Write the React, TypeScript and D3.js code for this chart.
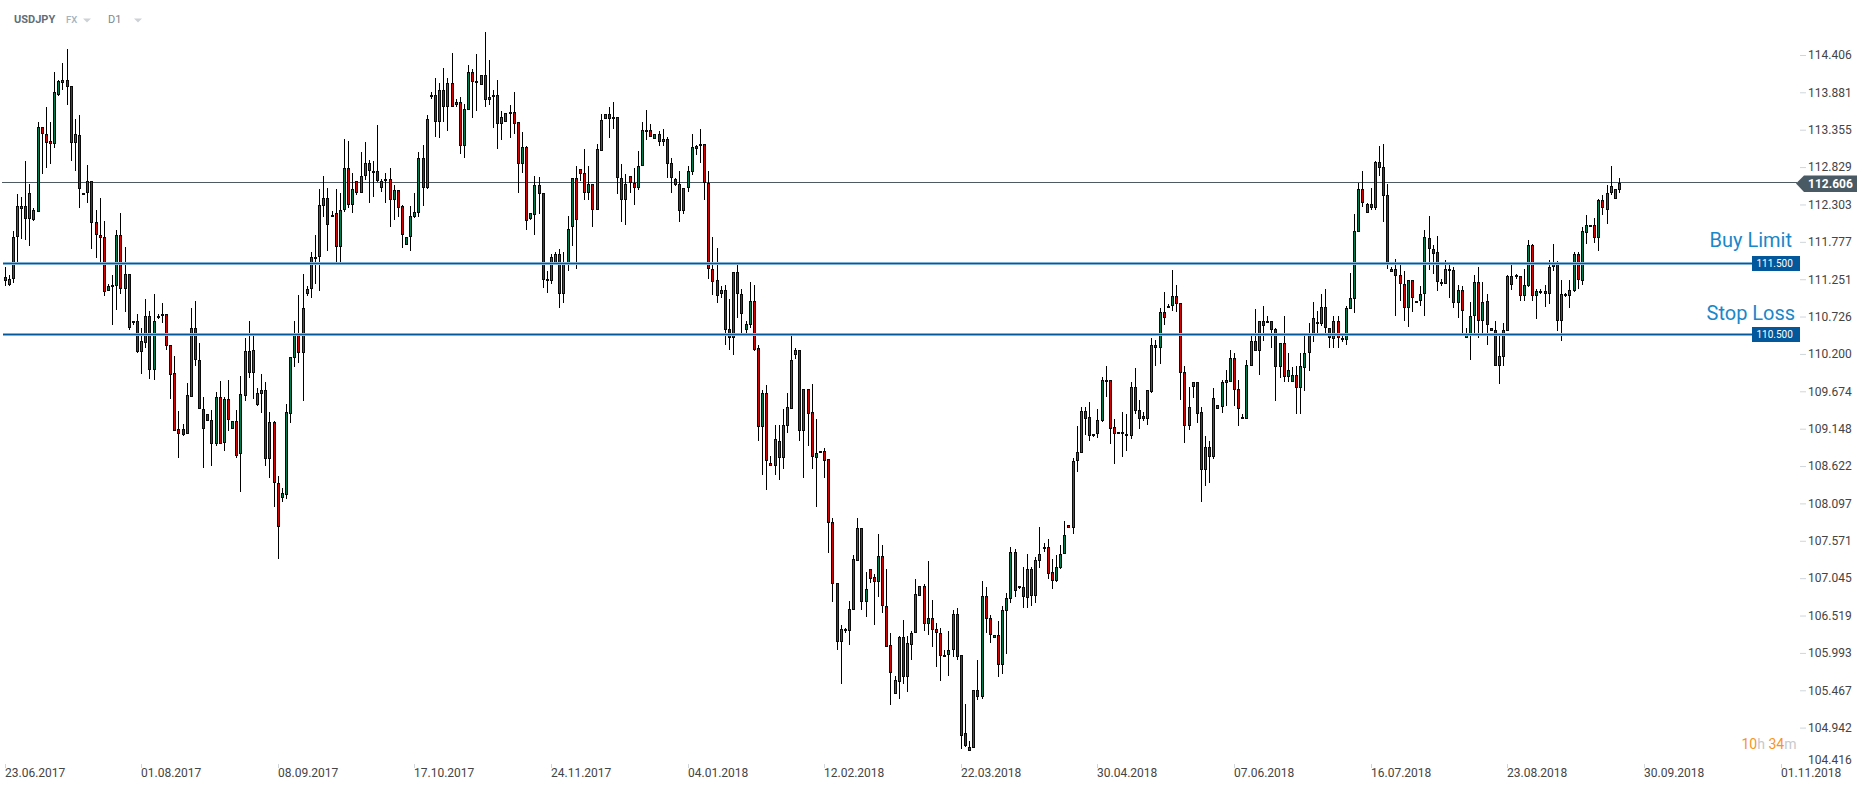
import { useEffect, useRef } from 'react';
import * as d3 from 'd3';

// open, high, low, close
type Candle = [number, number, number, number];

const candlesJun2017: Candle[] = [
  [111.28,111.43,111.15,111.23],[111.17,111.31,111.16,111.25],[111.25,111.93,111.20,111.85],[111.84,112.45,111.47,112.28],
  [112.24,112.41,111.82,112.28],[112.28,112.91,111.81,112.10],[112.10,112.59,111.72,112.46],[112.09,112.25,112.07,112.22],
  [112.20,113.46,112.19,113.39],[113.39,113.39,112.73,113.29],[113.30,113.67,112.82,113.17],[113.19,113.46,112.87,113.16],
  [113.16,114.16,113.10,113.88],[113.84,114.05,113.83,114.04],[114.01,114.29,113.91,114.06],[114.06,114.49,113.70,113.95],
  [113.97,113.97,112.92,113.17],[113.17,113.51,112.78,113.29],[113.28,113.56,112.26,112.52],[112.43,112.47,112.43,112.47],
  [112.46,112.86,112.33,112.63],[112.63,112.64,111.68,112.04],[112.05,112.23,111.55,111.87],[111.88,112.40,111.47,111.83],
  [111.84,112.07,111.01,111.07],[111.09,111.18,111.09,111.15],[111.14,111.31,110.61,111.17],[111.15,111.94,110.82,111.87],
  [111.87,112.18,111.05,111.11],[111.11,111.70,110.79,111.32],[111.32,111.32,110.54,110.56],[110.63,110.66,110.61,110.66],
  [110.66,110.76,110.21,110.23],
];

const candlesAug2017: Candle[] = [
  [110.23,110.57,109.92,110.38],[110.36,110.97,110.28,110.74],[110.74,110.81,109.85,109.97],[109.97,111.04,109.84,110.67],
  [110.70,110.76,110.69,110.74],[110.73,110.91,110.64,110.76],[110.76,110.76,110.25,110.31],[110.32,110.32,109.56,109.91],
  [109.93,110.17,109.11,109.12],[109.14,109.40,108.73,109.07],[109.15,109.22,109.05,109.06],[109.07,109.79,109.07,109.62],
  [109.60,110.84,109.60,110.57],[110.57,110.94,110.03,110.11],[110.12,110.35,109.42,109.42],[109.43,109.60,108.60,109.14],
  [109.35,109.35,109.25,109.25],[109.27,109.41,108.63,108.93],[108.93,109.66,108.90,109.59],[109.59,109.82,108.93,108.93],
  [108.94,109.60,108.84,109.56],[109.56,109.83,109.11,109.27],[109.15,109.25,109.15,109.25],[109.25,109.41,108.74,108.77],
  [108.79,109.89,108.26,109.63],[109.61,110.42,109.54,110.24],[110.24,110.66,109.86,109.93],[109.93,110.47,109.56,110.26],
  [109.48,109.72,109.47,109.65],[109.63,109.92,109.37,109.69],[109.69,109.81,108.62,108.72],[108.72,109.38,108.45,109.24],
  [109.24,109.25,108.04,108.38],
];

const candlesSep2017: Candle[] = [
  [108.39,108.48,107.32,107.76],[108.17,108.31,108.12,108.24],[108.22,109.50,108.16,109.38],[109.36,110.15,109.23,110.15],
  [110.14,110.67,110.02,110.49],[110.49,111.03,110.07,110.22],[110.22,111.32,109.54,110.84],[111.05,111.16,111.01,111.12],
  [111.11,111.64,110.98,111.56],[111.55,111.87,111.19,111.57],[111.56,112.52,111.08,112.29],[112.28,112.70,112.13,112.40],
  [112.40,112.54,111.65,112.02],[112.16,112.21,112.12,112.14],[112.18,112.52,111.48,111.70],[111.70,112.46,111.47,112.23],
  [112.22,113.23,112.20,112.81],[112.81,113.19,112.25,112.29],[112.29,112.74,112.18,112.52],[112.64,112.64,112.44,112.47],
  [112.47,113.04,112.46,112.71],[112.70,113.18,112.65,112.88],[112.88,112.93,112.32,112.78],[112.78,112.91,112.41,112.76],
  [112.78,113.42,112.62,112.64],[112.54,112.66,112.48,112.64],[112.66,112.74,112.33,112.63],[112.66,112.81,111.99,112.36],
  [112.36,112.57,112.08,112.50],[112.50,112.50,112.13,112.26],[112.28,112.29,111.69,111.87],[111.73,111.85,111.73,111.85],
  [111.85,112.28,111.65,112.14],
];

const candlesOct2017: Candle[] = [
  [112.12,112.46,112.11,112.19],[112.18,113.04,112.13,112.95],[112.95,113.14,112.28,112.54],[112.53,113.56,112.52,113.51],
  [113.85,113.88,113.79,113.82],[113.84,114.08,113.25,113.46],[113.46,114.01,113.24,113.92],[113.92,114.23,113.46,113.67],
  [113.67,114.08,113.33,114.01],[114.01,114.43,113.67,113.67],[113.70,113.78,113.68,113.74],[113.74,113.82,113.02,113.12],
  [113.12,113.71,112.95,113.64],[113.63,114.26,113.63,114.16],[114.16,114.21,113.52,114.02],[114.01,114.42,113.62,114.04],
  [113.99,114.13,113.99,114.13],[114.12,114.73,113.68,113.77],[113.77,114.34,113.70,113.82],[113.82,113.91,113.38,113.85],
  [113.85,114.05,113.09,113.44],[113.44,113.62,113.21,113.53],[113.46,113.59,113.46,113.59],[113.57,113.70,113.24,113.60],
  [113.60,113.89,113.29,113.44],[113.46,113.47,112.47,112.87],[112.87,113.32,112.74,113.11],[113.11,113.12,111.94,112.07],
  [112.10,112.18,112.09,112.18],[112.16,112.70,111.87,112.57],[112.57,112.69,112.17,112.45],[112.46,112.46,111.13,111.24],
  [111.25,111.36,111.06,111.22],
];

const candlesNov2017: Candle[] = [
  [111.22,111.60,111.19,111.56],[111.47,111.63,111.47,111.60],[111.60,111.67,110.84,111.05],[111.05,111.63,110.92,111.49],
  [111.47,112.14,111.37,111.96],[111.98,112.68,111.72,112.67],[112.67,112.85,111.40,112.09],[112.80,112.80,112.64,112.73],
  [112.74,113.08,112.36,112.47],[112.47,112.85,112.37,112.59],[112.59,112.59,111.99,112.22],[112.22,113.15,112.22,113.08],
  [113.06,113.57,113.06,113.49],[113.50,113.57,113.50,113.57],[113.57,113.67,113.24,113.51],[113.51,113.74,113.36,113.54],
  [113.54,113.54,112.45,112.67],[112.68,112.87,112.06,112.36],[112.36,112.73,112.02,112.59],[112.70,112.70,112.46,112.60],
  [112.61,112.81,112.30,112.54],[112.54,113.06,112.51,112.85],[112.84,113.46,112.84,113.35],[113.32,113.63,113.21,113.35],
  [113.35,113.43,113.25,113.25],[113.22,113.30,113.22,113.30],[113.29,113.33,113.12,113.18],[113.18,113.36,113.12,113.23],
  [113.23,113.25,112.67,112.87],[112.88,112.95,112.47,112.67],[112.66,112.67,112.56,112.57],[112.59,112.78,112.05,112.21],
  [112.21,112.54,112.17,112.54],
];

const candlesJan2018: Candle[] = [
  [112.53,112.85,112.48,112.77],[112.76,113.29,112.72,113.11],[113.12,113.14,113.00,113.09],[113.12,113.37,112.88,113.15],
  [113.15,113.15,112.36,112.60],[112.61,112.77,111.26,111.39],[111.40,111.85,111.03,111.21],[111.24,111.69,110.91,111.02],
  [111.05,111.15,110.99,111.10],[111.10,111.17,110.33,110.53],[110.55,110.97,110.25,110.42],[110.42,111.35,110.19,111.35],
  [111.35,111.47,110.70,111.04],[111.05,111.11,110.49,110.76],[110.53,110.66,110.50,110.62],[110.60,111.21,110.56,110.94],
  [110.94,111.17,110.24,110.26],[110.28,110.32,108.97,109.17],[109.17,109.69,108.50,109.65],[109.65,109.76,108.28,108.70],
  [108.67,108.76,108.63,108.63],[108.63,109.20,108.50,109.00],[108.98,109.20,108.42,108.74],[108.74,109.43,108.58,109.20],
  [109.18,109.65,109.09,109.45],[109.43,110.47,109.43,110.11],[110.18,110.28,110.13,110.26],[110.26,110.26,108.98,109.11],
  [109.11,109.70,108.45,109.70],[109.70,109.70,108.91,109.36],[109.38,109.77,108.58,108.75],[108.74,109.29,108.04,108.80],
  [108.82,108.84,108.82,108.84],
];

const candlesFeb2018: Candle[] = [
  [108.84,108.87,108.45,108.70],[108.72,108.72,107.40,107.82],[107.83,107.89,106.71,106.96],[106.97,106.97,106.04,106.14],
  [106.14,106.38,105.55,106.33],[106.33,106.35,106.28,106.30],[106.30,106.72,106.10,106.61],[106.59,107.37,106.59,107.31],
  [107.29,107.89,107.28,107.75],[107.75,107.75,106.59,106.71],[106.71,107.13,106.50,106.89],[107.18,107.18,106.98,107.04],
  [107.06,107.10,106.38,106.99],[106.99,107.66,106.78,107.35],[107.35,107.51,106.56,106.65],[106.65,107.18,106.07,106.08],
  [106.10,106.28,105.26,105.71],[105.42,105.67,105.42,105.61],[105.59,106.23,105.35,106.21],[106.21,106.46,105.55,105.65],
  [105.65,106.23,105.45,106.13],[106.11,106.30,105.89,106.28],[106.27,107.04,106.27,106.82],[106.79,106.94,106.79,106.94],
  [106.94,106.96,106.30,106.40],[106.40,107.28,106.25,106.49],[106.49,106.74,106.07,106.31],[106.33,106.41,105.79,106.27],
  [106.28,106.35,105.60,105.95],[105.97,106.03,105.93,105.94],[105.96,106.30,105.67,106.04],[106.03,106.60,105.94,106.54],
  [106.54,106.63,105.89,105.93],
];

const candlesMar2018: Candle[] = [
  [105.96,105.96,104.64,104.83],[104.86,105.27,104.67,104.69],[104.62,104.75,104.62,104.67],[104.65,105.47,104.65,105.47],
  [105.47,105.89,105.33,105.37],[105.37,107.00,105.35,106.79],[106.79,106.92,106.27,106.47],[106.48,106.52,106.13,106.24],
  [106.20,106.25,106.20,106.25],[106.25,106.44,105.66,105.83],[105.83,106.65,105.69,106.59],[106.58,106.83,105.98,106.76],
  [106.75,107.48,106.70,107.41],[107.41,107.45,106.78,106.86],[106.94,106.94,106.89,106.90],[106.92,107.20,106.62,106.78],
  [106.76,107.39,106.62,107.18],[107.18,107.20,106.65,106.79],[106.79,107.34,106.70,107.30],[107.28,107.76,107.19,107.38],
  [107.47,107.54,107.42,107.49],[107.48,107.59,107.04,107.11],[107.13,107.32,106.89,107.00],[107.00,107.37,106.99,107.20],
  [107.19,107.51,107.18,107.39],[107.38,107.85,107.38,107.65],[107.79,107.79,107.75,107.75],[107.75,108.74,107.66,108.70],
  [108.69,109.18,108.54,108.82],[108.80,109.45,108.80,109.39],[109.39,109.45,109.06,109.29],[109.31,109.52,108.97,109.04],
  [109.04,109.08,109.03,109.08],
];

const candlesMay2018: Candle[] = [
  [109.07,109.43,109.02,109.27],[109.25,109.88,109.24,109.84],[109.84,110.03,109.60,109.81],[109.84,109.84,108.93,109.15],
  [109.17,109.28,108.65,109.08],[109.10,109.10,109.07,109.07],[109.10,109.38,108.75,109.07],[109.08,109.35,108.83,109.04],
  [109.04,109.81,109.00,109.73],[109.73,110.00,109.36,109.39],[109.41,109.55,109.15,109.29],[109.32,109.38,109.26,109.29],
  [109.29,109.69,109.20,109.69],[109.66,110.43,109.65,110.33],[110.33,110.39,110.03,110.28],[110.28,110.84,110.06,110.79],
  [110.79,111.07,110.61,110.71],[110.86,110.90,110.84,110.88],[110.87,111.38,110.80,111.02],[111.02,111.17,110.79,110.90],
  [110.91,110.91,109.55,109.93],[109.94,110.03,108.95,109.18],[109.18,109.73,109.13,109.46],[109.73,109.80,109.58,109.80],
  [109.80,109.80,109.23,109.36],[109.38,109.45,108.11,108.56],[108.56,109.05,108.34,108.89],[108.89,108.98,108.38,108.75],
  [108.75,109.72,108.72,109.58],[109.43,109.48,109.43,109.48],[109.46,109.84,109.37,109.81],[109.79,109.98,109.47,109.83],
  [109.81,110.25,109.80,110.14],
];

const candlesJun2018: Candle[] = [
  [110.14,110.21,109.47,109.69],[109.70,109.84,109.19,109.43],[109.28,109.36,109.28,109.31],[109.29,110.11,109.29,110.04],
  [110.03,110.46,110.03,110.38],[110.38,110.83,110.24,110.24],[110.24,110.67,109.90,110.66],[110.66,110.88,110.38,110.59],
  [110.65,110.73,110.65,110.67],[110.66,110.66,110.29,110.53],[110.55,110.56,109.54,110.01],[110.01,110.35,109.86,110.35],
  [110.35,110.74,109.81,109.87],[109.87,110.21,109.80,109.98],[109.81,110.01,109.81,109.90],[109.90,110.03,109.36,109.72],
  [109.72,110.21,109.36,110.03],[110.00,110.47,109.68,110.22],[110.21,110.63,109.96,110.46],[110.45,110.93,110.37,110.71],
  [110.62,110.80,110.49,110.65],[110.62,111.05,110.59,110.86],[110.86,111.12,110.49,110.56],[110.57,110.57,110.28,110.42],
  [110.41,110.73,110.29,110.66],[110.66,110.73,110.28,110.42],[110.42,110.45,110.37,110.39],[110.39,110.88,110.33,110.84],
  [110.83,111.34,110.83,110.98],[110.97,112.17,110.77,111.93],[111.91,112.61,111.91,112.52],[112.52,112.78,112.27,112.32],
  [112.18,112.33,112.18,112.31],
];

const candlesJul2018: Candle[] = [
  [112.31,112.54,112.23,112.25],[112.25,112.91,112.22,112.90],[112.90,113.12,112.71,112.81],[112.83,113.16,112.05,112.42],
  [112.43,112.59,111.40,111.47],[111.35,111.43,111.35,111.39],[111.40,111.53,110.73,111.29],[111.31,111.49,110.95,111.18],
  [111.19,111.36,110.66,110.84],[110.84,111.24,110.58,111.24],[111.24,111.24,110.79,110.98],[110.91,110.95,110.91,110.95],
  [110.94,111.16,110.87,111.05],[111.04,111.94,110.73,111.84],[111.83,112.14,111.38,111.67],[111.67,111.73,111.32,111.61],
  [111.64,111.86,111.09,111.21],[111.18,111.25,111.15,111.21],[111.19,111.52,111.18,111.39],[111.39,111.46,110.98,111.36],
  [111.38,111.42,110.84,110.91],[110.91,111.17,110.70,111.10],[111.10,111.15,110.50,110.80],[110.43,110.57,110.42,110.46],
  [110.46,110.93,110.11,110.74],[110.73,111.31,110.46,111.21],[111.21,111.42,110.43,110.67],[110.67,111.21,110.46,110.93],
  [110.94,111.04,110.32,110.60],[110.57,110.57,110.52,110.52],[110.53,110.67,110.03,110.03],[110.03,110.46,109.77,110.17],
  [110.15,110.63,110.03,110.53],
];

const candlesAug2018: Candle[] = [
  [110.52,111.31,110.52,111.29],[111.29,111.46,111.10,111.17],[111.28,111.32,111.26,111.31],[111.29,111.29,110.94,111.02],
  [111.02,111.40,110.95,111.17],[111.15,111.81,111.14,111.73],[111.73,111.75,110.95,111.01],[111.01,111.11,110.69,111.08],
  [111.06,111.11,111.04,111.09],[111.08,111.17,110.86,111.05],[111.05,111.52,110.90,111.43],[111.42,111.74,111.36,111.49],
  [111.49,111.51,110.52,110.66],[110.66,111.24,110.38,111.04],[111.05,111.06,111.00,111.01],[111.01,111.24,110.84,111.10],
  [111.08,111.63,111.07,111.60],[111.60,111.63,111.12,111.24],[111.22,111.99,111.17,111.93],[111.90,112.15,111.75,112.02],
  [112.02,112.02,111.99,111.99],[112.02,112.11,111.76,111.83],[111.83,112.38,111.65,112.36],[112.36,112.43,112.16,112.25],
  [112.23,112.57,112.03,112.47],[112.46,112.85,112.43,112.56],[112.38,112.52,112.38,112.52],[112.50,112.68,112.47,112.61],
];

const candles: Candle[] = [
  ...candlesJun2017, ...candlesAug2017, ...candlesSep2017, ...candlesOct2017,
  ...candlesNov2017, ...candlesJan2018, ...candlesFeb2018, ...candlesMar2018,
  ...candlesMay2018, ...candlesJun2018, ...candlesJul2018, ...candlesAug2018,
];

const priceTicks = [
  114.406, 113.881, 113.355, 112.829, 112.303, 111.777, 111.251, 110.726, 110.2, 109.674,
  109.148, 108.622, 108.097, 107.571, 107.045, 106.519, 105.993, 105.467, 104.942, 104.416,
];

const dateLabels = [
  '23.06.2017', '01.08.2017', '08.09.2017', '17.10.2017', '24.11.2017', '04.01.2018', '12.02.2018',
  '22.03.2018', '30.04.2018', '07.06.2018', '16.07.2018', '23.08.2018', '30.09.2018', '01.11.2018',
];

const lastPrice = 112.606;
const orderNames = ['Buy Limit', 'Stop Loss'];
const orderPrices = [111.5, 110.5];

const candlesPerLabel = 33;

export default function App() {
  const svgRef = useRef<SVGSVGElement>(null);

  useEffect(() => {
    if (!svgRef.current) return;

    d3.select(svgRef.current).selectAll('*').remove();

    const width = 1868;
    const height = 790;
    const font = 'Roboto, sans-serif';

    const svg = d3.select(svgRef.current)
      .attr('width', width)
      .attr('height', height)
      .style('font-family', font);

    const xScale = d3.scaleLinear()
      .domain([0, candlesPerLabel * (dateLabels.length - 1)])
      .range([5, 1781]);

    const yScale = d3.scaleLinear()
      .domain([104.416, 114.406])
      .range([765, 55]);

    const px = (i: number) => Math.floor(xScale(i));

    // header
    svg.append('text').text('USDJPY')
      .attr('x', 14).attr('y', 23)
      .attr('font-size', 11).attr('font-weight', 700).attr('fill', '#5f6f79');
    svg.append('text').text('FX')
      .attr('x', 66).attr('y', 23)
      .attr('font-size', 9.5).attr('font-weight', 500).attr('fill', '#a3b3bd');
    svg.append('text').text('D1')
      .attr('x', 108).attr('y', 23)
      .attr('font-size', 11).attr('fill', '#7c8890');
    [83, 134].forEach((tx) => {
      svg.append('path')
        .attr('d', `M${tx},18.5h8l-4,4z`)
        .attr('fill', '#cdd2d6');
    });

    // last price line sits under the candles
    const lastY = Math.floor(yScale(lastPrice)) + 0.5;
    svg.append('line')
      .attr('x1', 2).attr('x2', 1797)
      .attr('y1', lastY).attr('y2', lastY)
      .attr('stroke', '#4d5a62');

    // candles
    const g = svg.append('g');
    candles.forEach(([open, high, low, close], i) => {
      const cx = px(i);
      g.append('rect')
        .attr('x', cx)
        .attr('width', 1)
        .attr('y', Math.round(yScale(high)))
        .attr('height', Math.max(1, Math.round(yScale(low)) - Math.round(yScale(high))))
        .attr('fill', '#000');

      const top = Math.round(yScale(Math.max(open, close)));
      const bottom = Math.round(yScale(Math.min(open, close)));
      g.append('rect')
        .attr('x', cx - 0.5)
        .attr('width', 2)
        .attr('y', top + 0.5)
        .attr('height', Math.max(1, bottom - top - 1))
        .attr('fill', close >= open ? '#007a4e' : '#d50000')
        .attr('stroke', '#0a0a0a')
        .attr('stroke-width', 1);
    });

    // pending orders, drawn over the candles
    const orderLabelAt = [{ x: 1709.5, y: 247 }, { x: 1706.5, y: 319.5 }];
    orderPrices.forEach((price, k) => {
      const rowY = Math.floor(yScale(price) + 2) + 0.5;
      svg.append('line')
        .attr('x1', 3).attr('x2', 1752)
        .attr('y1', rowY).attr('y2', rowY)
        .attr('stroke', '#7fb0d6').attr('stroke-width', 3);
      svg.append('line')
        .attr('x1', 3).attr('x2', 1752)
        .attr('y1', rowY).attr('y2', rowY)
        .attr('stroke', '#04589c').attr('stroke-width', 1);
      svg.append('rect')
        .attr('x', 1752).attr('y', rowY - 7.5)
        .attr('width', 48).attr('height', 15)
        .attr('fill', '#03579b');
      svg.append('text').text(price.toFixed(3))
        .attr('x', 1756.5).attr('y', rowY + 3)
        .attr('font-size', 10).attr('fill', '#fff');
      svg.append('text').text(orderNames[k])
        .attr('x', orderLabelAt[k].x).attr('y', orderLabelAt[k].y)
        .attr('font-size', 20)
        .attr('fill', '#1a87c9');
    });

    // price axis
    const yAxis = d3.axisRight(yScale)
      .tickValues(priceTicks)
      .tickFormat((d) => (d as number).toFixed(3))
      .tickSize(6)
      .tickPadding(2);

    const yAxisG = svg.append('g')
      .attr('transform', 'translate(1800,0)')
      .call(yAxis);
    yAxisG.select('.domain').remove();
    yAxisG.attr('font-family', font).attr('font-size', 12);
    yAxisG.selectAll('line').attr('stroke', '#cfd6db');
    yAxisG.selectAll('text').attr('fill', '#444');
    // lowest label gets pushed up by the time axis and has no tick
    const lowest = yAxisG.selectAll<SVGGElement, number>('.tick').filter((d) => d === 104.416);
    lowest.select('line').remove();
    lowest.select('text').attr('y', -5);

    // last price badge
    svg.append('path')
      .attr('d', 'M1796,183.5L1804,175.5H1857V192H1804Z')
      .attr('fill', '#4a5a64');
    svg.append('text').text(lastPrice.toFixed(3))
      .attr('x', 1808).attr('y', 188)
      .attr('font-size', 12).attr('font-weight', 700).attr('fill', '#fff');

    // time axis
    const xAxis = d3.axisBottom(xScale)
      .tickValues(dateLabels.map((_, i) => i * candlesPerLabel))
      .tickFormat((d) => dateLabels[(d as number) / candlesPerLabel])
      .tickSize(4);

    const xAxisG = svg.append('g')
      .attr('transform', 'translate(0,764)')
      .call(xAxis);
    xAxisG.select('.domain').remove();
    xAxisG.attr('font-family', font).attr('font-size', 12);
    xAxisG.selectAll<SVGGElement, number>('.tick')
      .attr('transform', (d) => `translate(${px(d)}.5,0)`);
    xAxisG.selectAll('line').attr('stroke', '#cfd6db');
    xAxisG.selectAll('text')
      .attr('text-anchor', 'start')
      .attr('x', -0.5)
      .attr('y', 13)
      .attr('dy', 0)
      .attr('fill', '#444');

    // candle countdown
    const countdown = svg.append('text')
      .attr('x', 1741.5).attr('y', 749)
      .attr('font-size', 14);
    countdown.append('tspan').text('10').attr('fill', '#f7941d');
    countdown.append('tspan').text('h ').attr('fill', '#c5cacd');
    countdown.append('tspan').text('34').attr('fill', '#f7941d');
    countdown.append('tspan').text('m').attr('fill', '#c5cacd');
  }, []);

  return <svg ref={svgRef} style={{ position: 'absolute', left: 0, top: 0, display: 'block' }} />;
}
